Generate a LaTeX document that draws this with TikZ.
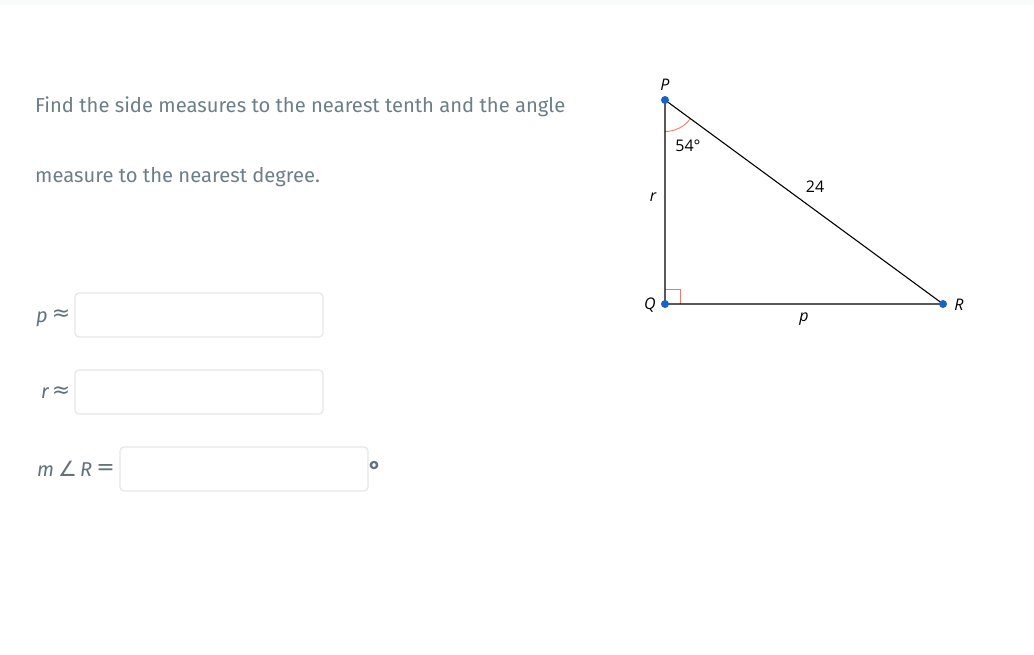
\documentclass[tikz,border=0pt]{standalone}
\usepackage{fontspec}
\setmainfont{Fira Sans}
\newfontfamily\labfont{Open Sans}
\newfontfamily\symfont{DejaVu Sans}
\definecolor{txtgray}{HTML}{6B7F88}
\definecolor{mathgray}{HTML}{5F737D}
\definecolor{boxgray}{HTML}{E6E8E8}
\definecolor{dotblue}{HTML}{1763C9}
\definecolor{markred}{HTML}{F07A68}
\definecolor{bandgray}{HTML}{F9FBFB}
\tikzset{
  prose/.style={anchor=base west, inner sep=0pt, text=txtgray, font=\fontsize{20.2}{24}\selectfont},
  mathvar/.style={anchor=base west, inner sep=0pt, text=mathgray, font=\itshape\fontsize{20}{24}\selectfont},
  mathsym/.style={anchor=center, inner sep=0pt, text=mathgray, font=\symfont\fontsize{#1}{24}\selectfont},
  answerbox/.style={draw=boxgray, line width=1.3pt, rounded corners=4pt, fill=white},
  trilab/.style={inner sep=0pt, text=black, font=\labfont\fontsize{16}{19}\selectfont},
  vertexdot/.style={fill=dotblue},
  side/.style={draw=black, line width=1.1pt},
  marker/.style={draw=markred, line width=0.9pt}
}
\begin{document}
\begin{tikzpicture}[x=1pt,y=-1pt]
\fill[white] (0,0) rectangle (1034,654);
\useasboundingbox (0,0) rectangle (1034,654);
\fill[bandgray] (0,0) rectangle (1034,5);

% prose
\node[prose] (line1) at (35,112) {Find the side measures to the nearest tenth and the angle};
\node[prose] (line2) at (35,182) {measure to the nearest degree.};

% answer rows
\node[mathvar] (pvar) at (36,322) {p};
\node[mathsym=22] (papprox) at (61,315) {≈};
\draw[answerbox] (75,293) rectangle (323,337);

\node[mathvar] (rvar) at (41,398) {r};
\node[mathsym=22] (rapprox) at (61,392) {≈};
\draw[answerbox] (75,370) rectangle (323,414);

\node[mathvar] (mvar) at (37,476) {m};
\node[mathsym=21] (angsym) at (67.5,469) {∠};
\node[mathvar] (Rvar) at (80,476) {R};
\node[mathsym=22] (eqsym) at (105.5,469) {=};
\draw[answerbox] (120,447) rectangle (368,491);
\node[anchor=center, inner sep=0pt, text=mathgray, font=\bfseries\fontsize{24}{28}\selectfont] (deg) at (375,470) {°};

% triangle
\coordinate (P) at (665,100);
\coordinate (Q) at (665,304);
\coordinate (R) at (943,304);
\draw[marker] (665,289) -- (680,289) -- (680,304);
\draw[marker] (665,131.5) arc[start angle=90, end angle=36.27, radius=31.5];
\draw[side] (P) -- (Q) -- (R) -- cycle;
\fill[vertexdot] (P) circle (4);
\fill[vertexdot] (Q) circle (4);
\fill[vertexdot] (R) circle (4);

\node[trilab] (Plab) at (665,85) {\itshape P};
\node[trilab] (Qlab) at (650,305) {\itshape Q};
\node[trilab] (Rlab) at (959,305) {\itshape R};
\node[trilab] (rside) at (653,197) {\itshape r};
\node[trilab] (pside) at (804,319) {\itshape p};
\node[trilab] (hyp) at (815,187) {24};
\node[trilab] (ang) at (688,146) {54°};
\end{tikzpicture}
\end{document}
